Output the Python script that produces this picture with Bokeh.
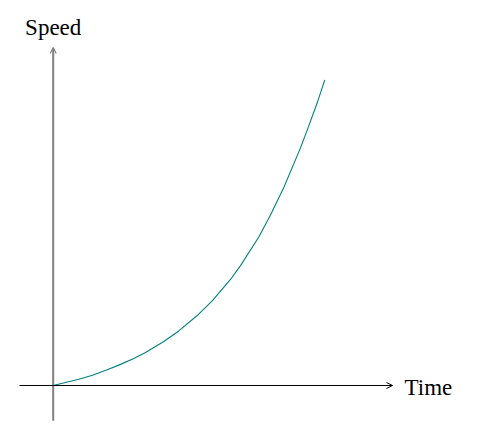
from bokeh.plotting import figure
from bokeh.models import Arrow, OpenHead, ColumnDataSource
from bokeh.core.properties import value
from bokeh.embed import file_html
from bokeh.resources import INLINE

# Curve values
time = [0.0, 0.256, 0.393, 0.54, 0.673, 0.806, 0.923, 1.106, 1.256, 1.44, 1.59,
        1.773, 1.873, 2.056, 2.173, 2.306, 2.473, 2.556, 2.64, 2.716]
speed = [0.0, 0.28, 0.47, 0.72, 0.96, 1.23, 1.50, 2.0, 2.48, 3.18, 3.85,
         4.82, 5.45, 6.75, 7.75, 9.0, 10.8, 11.8, 12.85, 13.89]

x_label = "Time"
y_label = "Speed"

# axis extents
x_axis_start, x_axis_end = -0.337, 3.393
y_axis_start, y_axis_end = -1.6, 15.36

p = figure(width=472, height=422, output_backend="svg", toolbar_location=None,
           x_range=(-0.527, 4.193), y_range=(-1.682, 17.5),
           x_axis_location=None, y_axis_location=None, min_border=0)
p.xgrid.visible = False
p.ygrid.visible = False
p.outline_line_color = None
p.background_fill_color = "white"

# y axis (gray)
p.add_layout(Arrow(x_start=0, y_start=y_axis_start, x_end=0, y_end=y_axis_end,
                   line_color="#808080", line_width=2,
                   end=OpenHead(size=6, line_color="#808080", line_width=1.2)))
# x axis (black)
p.add_layout(Arrow(x_start=x_axis_start, y_start=0, x_end=x_axis_end, y_end=0,
                   line_color="black", line_width=1,
                   end=OpenHead(size=6, line_color="black", line_width=1)))

src = ColumnDataSource(dict(t=time, s=speed))
p.line("t", "s", source=src, line_color="#008080", line_width=1.1)

p.text(x=[0], y=[16.28], text=[y_label], text_align="center",
       text_baseline="alphabetic", text_font=value("Liberation Serif"),
       text_font_size="23px", text_color="black")
p.text(x=[3.513], y=[-0.07], text=[x_label], text_align="left",
       text_baseline="alphabetic", text_font=value("Liberation Serif"),
       text_font_size="23px", text_color="black")

open("out.html", "w").write(file_html(p, INLINE))
